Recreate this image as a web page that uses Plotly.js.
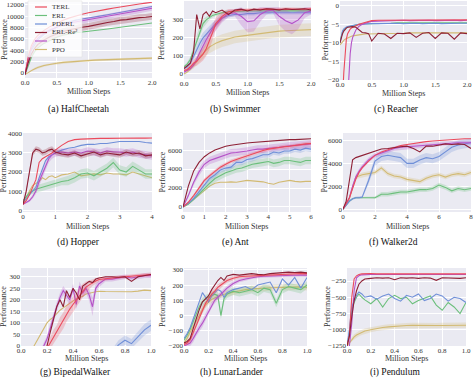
<!DOCTYPE html>
<html><head><meta charset="utf-8">
<script src="https://cdn.plot.ly/plotly-3.0.1.min.js"></script>
<style>html,body{margin:0;padding:0;background:#fff}#chart{width:474px;height:384px}</style>
</head><body><div id="chart"></div>
<script>
const seriesNames = ['TERL','ERL','PDERL','ERL-Re²','TD3','PPO'];
const seriesColors = ['#eb4a5c','#6cbf7c','#6f8fd8','#8e2035','#b552c8','#d2ba73'];
const seriesFills = ['rgba(235,74,92,0.25)','rgba(108,191,124,0.25)','rgba(111,143,216,0.25)','rgba(142,32,53,0.25)','rgba(181,82,200,0.25)','rgba(210,186,115,0.25)'];
const captions = ['(a) HalfCheetah','(b) Swimmer','(c) Reacher','(d) Hopper','(e) Ant','(f) Walker2d','(g) BipedalWalker','(h) LunarLander','(i) Pendulum'];

// (a) HalfCheetah
const hcX = [0,0.05,0.1,0.15,0.2,0.3,0.4,0.5,0.6,0.7,0.8,0.9,1.0,1.1,1.2,1.3,1.4,1.5,1.6,1.7,1.8,1.9,2.0];
const hcTERL = [-300,2800,4800,5900,6600,7500,8200,8800,9300,9700,10050,10350,10600,10850,11050,11250,11450,11650,11850,12000,12150,12300,12450];
const hcPDERL = [-300,2200,4000,5000,5800,6800,7500,8100,8600,9000,9300,9500,9650,9850,10050,10250,10450,10650,10850,11050,11250,11450,11700];
const hcTD3 = [-300,2500,4300,5400,6100,7000,7600,8100,8500,8800,9000,9150,9300,9500,9700,9900,10100,10350,10550,10750,10950,11150,11400];
const hcTD3sd = [0,200,300,350,400,400,400,400,400,400,400,450,450,450,450,450,450,450,450,450,450,450,450];
const hcRe2 = [-300,1800,3300,4300,5000,5800,6400,6900,7300,7600,7850,8050,8200,8450,8650,8900,9050,9300,9400,9600,9750,9800,9950];
const hcRe2sd = [0,300,400,500,500,600,600,600,600,600,600,600,600,600,600,600,600,600,600,600,600,600,600];
const hcERL = [-300,1400,2700,3700,4400,5200,5800,6300,6650,6900,7100,7200,7300,7450,7600,7750,7900,8050,8200,8350,8500,8650,8800];
const hcPPO = [-300,100,400,700,950,1300,1550,1700,1850,1950,2050,2150,2200,2250,2300,2350,2400,2450,2480,2520,2550,2570,2600];
const hcPPOsd = [0,100,150,200,200,200,200,200,200,200,200,200,200,200,200,200,200,200,200,200,200,200,200];

// (b) Swimmer
const swX = [0,0.05,0.1,0.15,0.2,0.25,0.3,0.35,0.4,0.45,0.5,0.6,0.7,0.8,0.9,1.0,1.1,1.2,1.3,1.4,1.5,1.6,1.7,1.8,1.9,2.0];
const swTERL = [20,25,40,60,70,90,110,140,180,230,280,320,345,350,355,355,358,360,360,358,360,362,360,358,360,362];
const swTERLsd = [5,10,15,20,25,30,35,40,45,40,35,25,15,10,8,8,8,8,8,8,8,8,8,8,8,8];
const swRe2 = [30,45,60,120,330,250,330,345,320,350,340,355,330,355,360,350,360,355,362,360,355,362,358,360,362,355];
const swERL = [40,55,80,130,190,240,280,300,315,325,330,340,345,345,348,350,350,350,352,352,350,352,352,350,352,350];
const swERLsd = [5,10,15,25,30,30,25,20,15,12,10,8,8,8,8,8,8,8,8,8,8,8,8,8,8,8];
const swPDERL = [30,40,60,100,140,170,200,220,240,260,280,310,325,330,330,335,335,340,340,340,342,340,340,342,340,340];
const swPDERLsd = [5,10,15,20,25,30,30,30,30,25,20,15,12,10,10,10,10,10,10,10,10,10,10,10,10,10];
const swTD3 = [10,20,30,50,80,120,160,190,220,250,270,310,335,340,320,290,295,330,350,355,320,295,280,300,340,350];
const swTD3sd = [5,5,10,15,20,30,30,30,30,30,30,25,20,20,50,60,60,40,20,15,50,60,60,50,30,20];
const swPPO = [0,10,25,45,70,95,115,135,150,160,170,185,195,205,210,215,220,225,230,235,238,240,242,244,245,246];
const swPPOsd = [0,5,10,15,20,25,30,30,35,35,35,35,35,35,35,35,35,35,35,35,35,35,35,35,35,35];

// (c) Reacher
const reX = [0,0.02,0.04,0.06,0.08,0.1,0.12,0.14,0.16,0.18,0.2,0.25,0.3,0.35,0.4,0.45,0.5,0.6,0.7,0.8,0.9,1.0,1.1,1.2,1.3,1.4,1.5,1.6,1.7,1.8,1.9,2.0];
const reTERL = [-40,-35,-25,-18,-12,-9,-7.5,-6.8,-6.3,-6,-5.8,-5.3,-5,-4.7,-4.4,-4.2,-4,-3.9,-3.9,-3.8,-3.9,-3.8,-3.8,-3.7,-3.8,-3.8,-3.7,-3.8,-3.7,-3.8,-3.7,-3.8];
const reTD3 = [-40,-40,-40,-40,-38,-32,-25,-18,-13,-10,-8.5,-6.5,-5.5,-5,-4.6,-4.4,-4.2,-4.1,-4,-4,-4,-3.9,-4,-3.9,-4,-3.9,-4,-3.9,-4,-3.9,-4,-3.9];
const rePDERL = [-10,-8,-6.8,-6.2,-5.9,-5.7,-5.6,-5.5,-5.4,-5.3,-5.2,-5.1,-5,-4.9,-4.9,-4.8,-4.8,-4.8,-4.7,-4.8,-4.7,-4.8,-4.7,-4.7,-4.8,-4.7,-4.7,-4.8,-4.7,-4.7,-4.7,-4.7];
const reERL = [-9.5,-8,-7,-6.5,-6.1,-5.9,-5.7,-5.6,-5.5,-5.4,-5.3,-5.1,-5,-4.9,-4.9,-4.8,-4.8,-4.7,-4.7,-4.7,-4.6,-4.7,-4.6,-4.6,-4.7,-4.6,-4.6,-4.6,-4.7,-4.6,-4.6,-4.6];
const reRe2 = [-10,-8.5,-7.5,-6.8,-6.3,-6,-5.8,-5.7,-5.6,-5.6,-5.6,-5.8,-6.5,-7.2,-7.3,-7.5,-9.5,-7.4,-7.6,-8.8,-7.4,-7.5,-7.3,-8.5,-7.4,-7.2,-8.8,-7.3,-7.4,-9,-7.3,-7.5];
const rePPO = [-10.5,-10,-9.6,-9.3,-9,-8.8,-8.6,-8.4,-8.3,-8.2,-8.1,-7.9,-7.8,-7.7,-7.6,-7.6,-7.5,-7.5,-7.4,-7.4,-7.4,-7.4,-7.3,-7.3,-7.3,-7.3,-7.3,-7.3,-7.3,-7.3,-7.3,-7.3];

// (d) Hopper
const hoX = [0,0.1,0.2,0.3,0.4,0.5,0.6,0.7,0.8,0.9,1.0,1.2,1.4,1.6,1.8,2.0,2.2,2.4,2.6,2.8,3.0,3.2,3.4,3.6,3.8,4.0];
const hoTERL = [300,500,800,1200,1600,2500,2700,2800,2900,3000,3150,3400,3600,3700,3730,3750,3760,3770,3770,3780,3780,3780,3780,3790,3780,3790];
const hoRe2 = [300,1000,2000,3000,3200,3150,3000,3050,3150,3200,3050,2950,2900,3000,2850,2950,3050,2900,3000,2950,2900,3050,2950,3000,2850,2900];
const hoRe2sd = [0,100,150,150,150,150,150,150,150,150,150,150,150,150,150,150,150,150,150,150,150,150,150,150,150,150];
const hoTD3 = [300,400,500,700,1000,1500,1900,2300,2700,2900,3000,3050,3000,3050,3000,3100,3050,3000,3100,3050,3050,3000,3050,2950,2900,2850];
const hoTD3sd = [0,50,80,100,150,200,200,200,200,200,200,200,200,200,200,200,200,200,200,200,200,200,200,200,200,200];
const hoPDERL = [400,600,800,950,1200,1700,2200,2600,2800,2900,3000,3150,3250,3300,3400,3450,3450,3500,3500,3550,3600,3600,3600,3600,3550,3520];
const hoERL = [500,700,900,1000,1100,1150,1200,1250,1300,1350,1400,1500,1550,1700,1900,1950,1800,2000,2200,2500,2100,2000,2300,2100,1900,1900];
const hoERLsd = [0,50,100,150,200,200,200,200,200,200,200,200,250,250,250,250,250,250,250,250,250,250,250,250,250,250];
const hoPPO = [300,700,1000,1300,1400,1500,1700,1600,1750,1800,1700,1850,1900,2000,1800,1850,1900,1850,1950,1900,1900,1850,2000,1900,1800,1700];

// (e) Ant
const anX = [0,0.25,0.5,0.75,1,1.25,1.5,1.75,2,2.25,2.5,2.75,3,3.25,3.5,3.75,4,4.25,4.5,4.75,5,5.25,5.5,5.75,6];
const anRe2 = [0,2200,3800,4700,5300,5700,6000,6200,6400,6500,6600,6700,6750,6800,6850,6900,6950,7000,7050,7050,7100,7100,7150,7150,7200];
const anTD3 = [0,1200,2600,3700,4500,4900,5100,5300,5500,5700,5750,5800,5900,6000,6100,6100,6200,6250,6300,6400,6450,6500,6550,6600,6650];
const anTD3sd = [0,200,300,400,400,400,400,400,400,400,400,400,400,400,400,400,400,400,400,400,400,400,400,400,400];
const anTERL = [0,500,1200,2000,2800,3300,3800,4200,4500,4800,5000,5200,5400,5600,5800,5950,6100,6200,6300,6350,6400,6500,6600,6650,6700];
const anTERLsd = [0,100,150,200,200,200,200,200,200,200,200,200,200,200,200,200,200,200,200,200,200,200,200,200,200];
const anPDERL = [0,400,900,1600,2400,3000,3400,3900,4100,4200,4700,4700,5000,5100,5300,5500,5500,5800,5700,5900,5900,6100,6000,6200,6100];
const anPDERLsd = [0,100,200,300,300,300,300,300,300,300,300,300,300,300,300,300,300,300,300,300,300,300,300,300,300];
const anERL = [0,300,800,1400,2000,2500,3000,3300,3600,3800,4000,4100,4300,4500,4600,4700,4800,4600,4700,4900,4900,4800,4700,4900,4900];
const anERLsd = [0,100,200,300,400,400,400,400,400,400,400,400,400,400,400,400,400,400,400,400,400,400,400,400,400];
const anPPO = [0,300,800,1300,1800,2200,2500,2600,2600,2650,2600,2700,2800,2750,2700,2650,2500,2400,2600,2700,2800,2700,2650,2700,2700];

// (f) Walker2d
const wkX = [0,0.2,0.4,0.6,0.8,1.0,1.2,1.6,2.0,2.4,2.8,3.2,3.6,4.0,4.4,4.8,5.2,5.6,6.0,6.4,6.8,7.2,7.6,8.0];
const wkRe2 = [0,700,2500,4300,4500,4600,4700,4900,5100,5250,5300,5400,5450,5500,5300,5000,5500,5500,5600,5700,5650,5700,5650,5300];
const wkTERL = [0,500,1000,1800,2600,3200,3600,4200,4700,5000,5200,5400,5550,5650,5750,5850,5900,5950,6000,6050,6100,6100,6150,6150];
const wkTD3 = [0,500,1000,2000,2800,3300,3700,4300,4700,4900,5100,5300,5400,5450,5500,5550,5600,5650,5700,5750,5750,5800,5800,5800];
const wkTD3sd = [0,100,150,200,200,200,200,200,200,200,200,200,200,200,200,200,200,200,200,200,200,200,200,200];
const wkPDERL = [0,400,700,900,1000,1000,1050,2500,4200,4600,4700,4600,4500,4000,4000,4300,4500,4400,4600,5000,5400,5600,5700,5800];
const wkPDERLsd = [0,100,100,100,100,100,100,300,400,400,400,400,400,400,400,400,400,400,400,400,400,400,400,400];
const wkPPO = [0,400,900,1900,2800,2900,3000,3100,3200,3600,3100,2900,2800,2600,2500,2400,2700,2900,3000,2800,3000,3100,3000,3200];
const wkPPOsd = [0,100,150,200,200,200,200,200,200,200,200,200,200,200,200,200,200,200,200,200,200,200,200,200];
const wkERL = [0,400,700,900,1000,1000,1000,1000,1000,1300,1300,1400,1500,1500,1600,1700,1700,1800,2100,1900,1600,1800,1700,1800];
const wkERLsd = [0,50,50,50,50,50,50,50,100,200,200,200,200,200,200,200,200,200,200,200,200,200,200,200];

// (g) BipedalWalker
const bwX = [0,0.05,0.1,0.15,0.2,0.225,0.25,0.275,0.3,0.325,0.35,0.375,0.4,0.425,0.45,0.475,0.5,0.525,0.55,0.575,0.6,0.65,0.7,0.75,0.8,0.85,0.9,0.95,1.0];
const bwPPO = [-80,-50,0,50,100,115,125,140,155,165,175,185,195,205,210,215,225,230,232,235,237,236,235,234,236,235,238,242,240];
const bwTD3 = [-100,-100,-80,-30,30,80,120,170,210,240,220,200,250,180,260,230,250,220,170,250,270,290,290,295,300,295,300,305,305];
const bwTD3sd = [0,0,0,10,15,20,20,20,20,20,20,20,20,20,20,20,20,25,40,20,15,10,10,10,10,10,10,10,10];
const bwRe2 = [-100,-100,-90,-50,0,60,120,170,200,170,240,210,250,230,200,260,270,280,275,290,295,300,300,298,300,280,300,305,310];
const bwTERL = [-100,-100,-90,-60,-10,10,40,60,90,110,140,160,180,200,220,240,255,265,275,282,288,292,296,298,300,302,305,307,310];
const bwTERLsd = [0,0,0,10,20,25,30,30,35,35,35,35,35,35,30,30,25,20,15,12,10,8,8,8,8,8,8,8,8];
const bwPDERL = [-150,-150,-150,-150,-140,-140,-130,-130,-130,-120,-120,-120,-110,-110,-110,-100,-100,-90,-90,-80,-70,-50,-30,5,25,10,40,70,90];
const bwPDERLsd = [0,0,0,0,0,0,0,0,0,0,0,0,0,0,0,0,0,0,0,0,0,10,15,20,20,20,25,25,25];
const bwERL = [-160,-160,-160,-160,-150,-150,-150,-150,-140,-140,-140,-140,-130,-130,-130,-130,-120,-120,-120,-110,-110,-100,-90,-80,-60,-50,-30,-10,-20];

// (h) LunarLander
const llX = [0,0.025,0.05,0.075,0.1,0.125,0.15,0.175,0.2,0.225,0.25,0.275,0.3,0.325,0.35,0.4,0.45,0.5,0.55,0.6,0.65,0.7,0.75,0.8,0.85,0.9,0.95,1.0];
const llRe2 = [-180,-170,-150,-80,-20,40,90,110,130,170,200,230,250,230,260,270,265,270,275,270,268,275,278,280,285,282,285,280];
const llTERL = [-190,-180,-160,-110,-60,-10,40,80,110,140,160,185,200,215,230,245,255,258,260,262,265,268,270,272,275,275,276,275];
const llTERLsd = [10,15,20,25,25,25,25,25,25,25,20,20,20,15,15,15,12,12,10,10,10,10,10,10,10,10,10,10];
const llTD3 = [-200,-190,-180,-150,-110,-80,-50,-10,30,70,100,120,140,160,180,210,230,240,250,255,258,260,262,263,265,265,266,265];
const llTD3sd = [10,15,20,25,25,25,25,25,25,20,20,20,20,15,15,15,12,12,10,10,10,10,10,10,10,10,10,10];
const llPDERL = [-150,-120,-80,-20,40,100,150,120,90,130,150,170,160,120,150,170,180,190,170,200,210,220,150,240,200,250,180,250];
const llERL = [-160,-130,-90,-40,0,60,90,110,120,130,140,130,0,110,140,160,150,160,170,150,180,170,80,170,190,180,170,200];
const llERLsd = [10,15,20,25,25,25,25,25,25,25,25,25,25,25,25,25,25,25,25,25,25,25,25,25,25,25,25,25];
const llPPO = [-180,-150,-110,-70,-30,10,40,70,90,105,115,125,135,140,145,155,165,170,175,178,180,182,184,185,186,188,188,185];
const llPPOsd = [10,15,20,20,20,20,20,20,20,20,20,20,20,20,20,20,20,20,20,20,20,20,20,20,20,20,20,20];

// (i) Pendulum
const peX = [0,0.02,0.04,0.06,0.08,0.1,0.125,0.15,0.2,0.25,0.3,0.35,0.4,0.45,0.5,0.55,0.6,0.65,0.7,0.75,0.8,0.85,0.9,0.95,1.0];
const peTERL = [-1250,-1100,-500,-220,-170,-150,-140,-135,-135,-140,-135,-138,-140,-135,-138,-140,-138,-135,-140,-138,-140,-138,-140,-138,-140];
const peTD3 = [-1300,-1250,-900,-400,-200,-170,-155,-150,-150,-150,-150,-152,-150,-150,-152,-150,-150,-152,-150,-150,-152,-150,-150,-152,-150];
const peRe2 = [-1250,-1100,-800,-550,-400,-300,-250,-220,-210,-200,-205,-200,-230,-200,-205,-200,-210,-200,-205,-240,-200,-205,-200,-210,-200];
const pePDERL = [-1250,-1000,-650,-550,-470,-420,-450,-500,-480,-530,-480,-450,-520,-560,-470,-500,-450,-550,-520,-450,-480,-560,-500,-520,-580];
const peERL = [-1250,-1050,-700,-580,-500,-450,-500,-540,-600,-520,-650,-520,-470,-520,-500,-600,-550,-520,-480,-620,-700,-580,-650,-750,-580];
const pePPO = [-1250,-1200,-1150,-1110,-1080,-1060,-1040,-1020,-1000,-980,-965,-955,-945,-940,-935,-932,-930,-932,-935,-935,-934,-933,-932,-930,-930];
const pePPOsd = [0,20,30,40,40,40,40,40,40,40,40,40,40,40,40,40,40,40,40,40,40,40,40,40,40];

// series order inside each panel: TERL, ERL, PDERL, ERL-Re2, TD3, PPO
const panelData = [
  {x: hcX, ys: [hcTERL, hcERL, hcPDERL, hcRe2, hcTD3, hcPPO], sds: [null, null, null, hcRe2sd, hcTD3sd, hcPPOsd]},
  {x: swX, ys: [swTERL, swERL, swPDERL, swRe2, swTD3, swPPO], sds: [swTERLsd, swERLsd, swPDERLsd, null, swTD3sd, swPPOsd]},
  {x: reX, ys: [reTERL, reERL, rePDERL, reRe2, reTD3, rePPO], sds: [null, null, null, null, null, null]},
  {x: hoX, ys: [hoTERL, hoERL, hoPDERL, hoRe2, hoTD3, hoPPO], sds: [null, hoERLsd, null, hoRe2sd, hoTD3sd, null]},
  {x: anX, ys: [anTERL, anERL, anPDERL, anRe2, anTD3, anPPO], sds: [anTERLsd, anERLsd, anPDERLsd, null, anTD3sd, null]},
  {x: wkX, ys: [wkTERL, wkERL, wkPDERL, wkRe2, wkTD3, wkPPO], sds: [null, wkERLsd, wkPDERLsd, null, wkTD3sd, wkPPOsd]},
  {x: bwX, ys: [bwTERL, bwERL, bwPDERL, bwRe2, bwTD3, bwPPO], sds: [bwTERLsd, null, bwPDERLsd, null, bwTD3sd, null]},
  {x: llX, ys: [llTERL, llERL, llPDERL, llRe2, llTD3, llPPO], sds: [llTERLsd, llERLsd, null, null, llTD3sd, llPPOsd]},
  {x: peX, ys: [peTERL, peERL, pePDERL, peRe2, peTD3, pePPO], sds: [null, null, null, null, null, pePPOsd]}
];

// ---- layout geometry (pixels) ----
const W = 474, H = 384;
const PX = p => p / W, PY = p => 1 - p / H;
const boxes = [
  {l:25, r:152, t:2, b:78, ylab:5, xr:[0,2], xd:0.5, xf:'.1f', yr:[-900,12500], yd:2000},
  {l:184, r:311, t:1, b:79, ylab:162, xr:[0,2], xd:0.5, xf:'.1f', yr:[-28,405], yd:100},
  {l:340, r:467, t:1, b:80, ylab:325, xr:[0,2], xd:0.5, xf:'.1f', yr:[-20,1.3], yd:5},
  {l:23, r:152, t:133, b:212, ylab:3, xr:[0,4], xd:1, xf:'d', yr:[-100,4050], yd:1000},
  {l:183, r:311, t:133, b:212, ylab:162, xr:[0,6], xd:1, xf:'d', yr:[-530,7800], yd:2000},
  {l:343, r:471, t:133, b:212, ylab:324, xr:[0,8], xd:2, xf:'d', yr:[-250,6650], yd:2000},
  {l:21, r:151, t:268, b:346, ylab:3, xr:[0,1], xd:0.2, xf:'.1f', yr:[0,338], yd:50},
  {l:184, r:307, t:268, b:346, ylab:162, xr:[0,1], xd:0.2, xf:'.1f', yr:[-200,312], yd:100},
  {l:347, r:466, t:268, b:346, ylab:327, xr:[0,1], xd:0.2, xf:'.1f', yr:[-1250,-50], yd:250}
];
const capY = [109,109,109,242,242,242,372,372,372];
const capX = [78,235,396,78,235,393,75,232,395];
const xlabY = [91.5,92,93,226,226,226,358,358,358];

const serif = 'Liberation Serif, Times New Roman, serif';
const drawOrder = [5,1,2,4,0,3];

const traces = [];
const layout = {
  width: W, height: H,
  margin: {l:0, r:0, t:0, b:0},
  paper_bgcolor: '#ffffff',
  plot_bgcolor: '#eaeaf2',
  showlegend: false,
  font: {family: serif, size: 7, color: '#222'},
  annotations: [],
  shapes: []
};

panelData.forEach((p, i) => {
  const sfx = i === 0 ? '' : String(i + 1);
  const xa = 'x' + sfx, ya = 'y' + sfx;
  const b = boxes[i];
  layout['xaxis' + sfx] = {
    domain: [PX(b.l), PX(b.r)], range: b.xr, anchor: ya, dtick: b.xd, tick0: 0, tickformat: b.xf,
    showgrid: true, gridcolor: '#ffffff', gridwidth: 1, zeroline: false, showline: false, ticks: '',
    ticklabelstandoff: -1,
    tickfont: {family: serif, size: 7, color: '#333'}, fixedrange: true
  };
  layout['yaxis' + sfx] = {
    domain: [PY(b.b), PY(b.t)], range: b.yr, anchor: xa, dtick: b.yd, tick0: 0, tickformat: 'd',
    showgrid: true, gridcolor: '#ffffff', gridwidth: 1, zeroline: false, showline: false, ticks: '',
    tickfont: {family: serif, size: 7, color: '#333'}, fixedrange: true
  };
  drawOrder.forEach(k => {
    const y = p.ys[k], sd = p.sds[k];
    if (sd) {
      const hi = y.map((v, j) => v + sd[j]);
      const lo = y.map((v, j) => v - sd[j]);
      traces.push({
        type: 'scatter', mode: 'lines', xaxis: xa, yaxis: ya,
        x: p.x.concat(p.x.slice().reverse()), y: hi.concat(lo.slice().reverse()),
        fill: 'toself', fillcolor: seriesFills[k], line: {width: 0}, hoverinfo: 'skip'
      });
    }
    traces.push({
      type: 'scatter', mode: 'lines', xaxis: xa, yaxis: ya, name: seriesNames[k],
      x: p.x, y: y, line: {color: seriesColors[k], width: 1.1}
    });
  });
  layout.annotations.push({
    text: 'Performance', textangle: -90, xref: 'paper', yref: 'paper',
    x: PX(b.ylab), y: PY((b.t + b.b) / 2), xanchor: 'center', yanchor: 'middle',
    showarrow: false, font: {family: serif, size: 8, color: '#333'}
  });
  layout.annotations.push({
    text: 'Million Steps', xref: 'paper', yref: 'paper',
    x: PX((b.l + b.r) / 2), y: PY(xlabY[i]), xanchor: 'center', yanchor: 'middle',
    showarrow: false, font: {family: serif, size: 8, color: '#333'}
  });
  layout.annotations.push({
    text: captions[i], xref: 'paper', yref: 'paper',
    x: PX(capX[i]), y: PY(capY[i]), xanchor: 'center', yanchor: 'middle',
    showarrow: false, font: {family: serif, size: 9.5, color: '#111'}
  });
});

// custom legend in panel (a)
layout.shapes.push({type: 'rect', xref: 'paper', yref: 'paper', x0: PX(28), x1: PX(82), y0: PY(57), y1: PY(1),
  fillcolor: 'rgba(255,255,255,0.8)', line: {color: '#dddddd', width: 0.5}});
const legY = [7, 15.5, 24, 32.5, 41, 49.5];
seriesNames.forEach((n, k) => {
  layout.shapes.push({type: 'line', xref: 'paper', yref: 'paper', x0: PX(35), x1: PX(47), y0: PY(legY[k]), y1: PY(legY[k]),
    line: {color: seriesColors[k], width: 1.2}});
  layout.annotations.push({text: n, xref: 'paper', yref: 'paper', x: PX(50), y: PY(legY[k]), xanchor: 'left', yanchor: 'middle',
    showarrow: false, font: {family: serif, size: 7, color: '#333'}});
});

Plotly.newPlot('chart', traces, layout, {displayModeBar: false, staticPlot: true});
</script>
</body></html>
